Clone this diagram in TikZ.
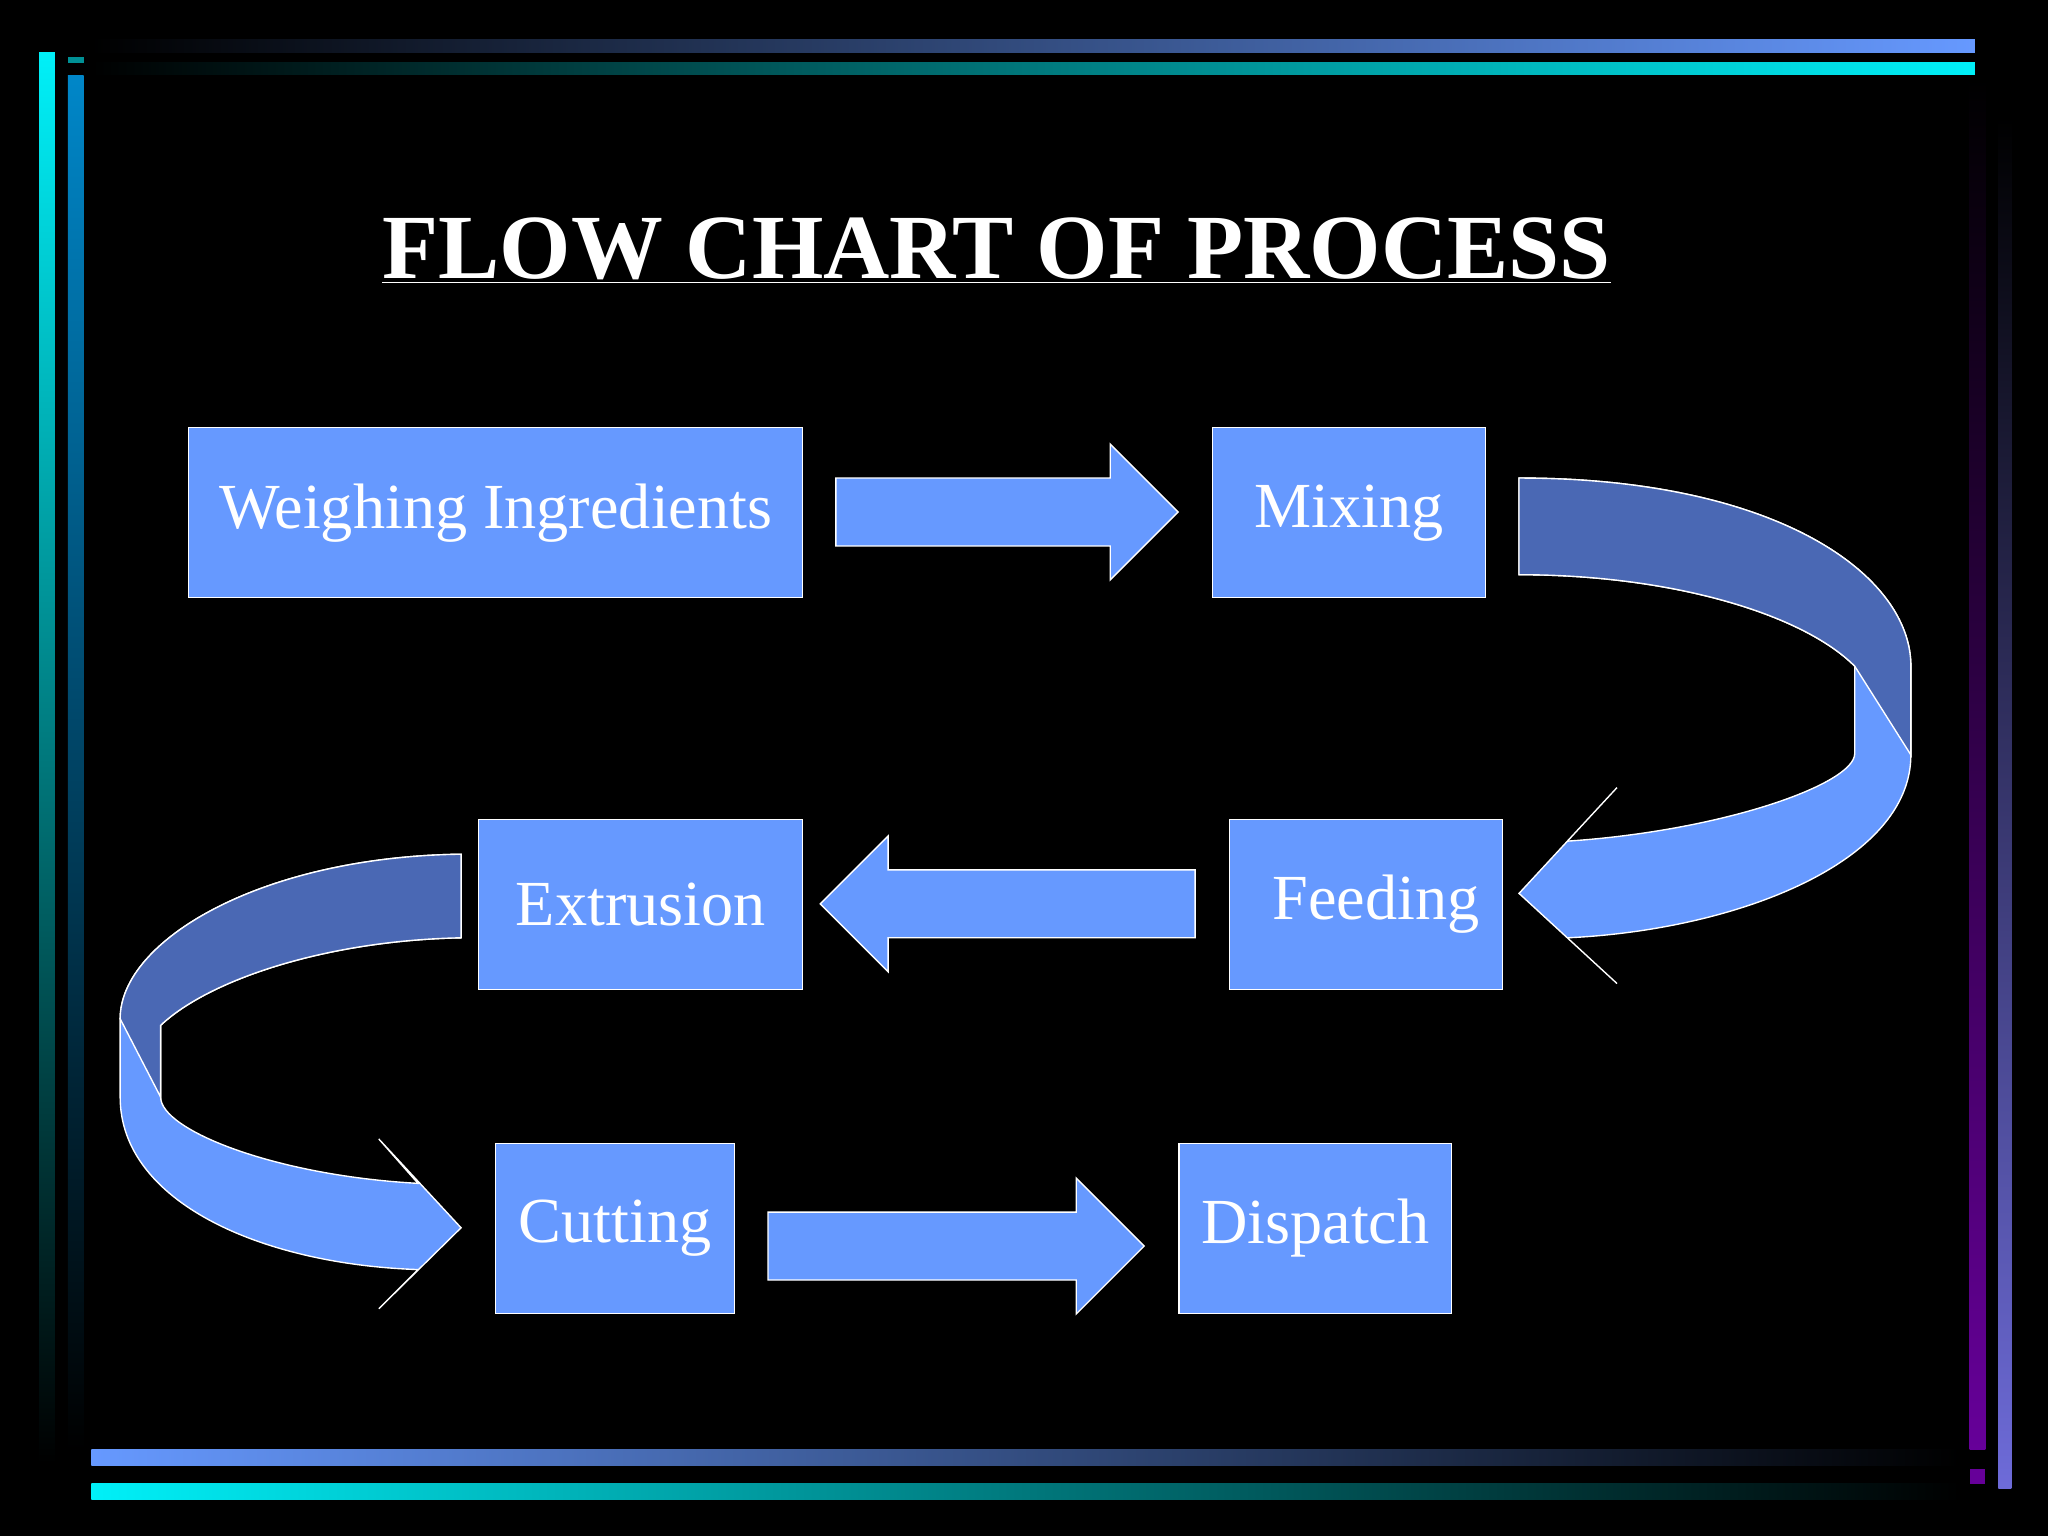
\documentclass[tikz,border=0pt]{standalone}
\usepackage{fontspec}
\setmainfont{Liberation Serif}
\definecolor{boxblue}{HTML}{6699FF}
\definecolor{darkband}{HTML}{4A68B4}
\definecolor{cy}{HTML}{00F0F8}
\begin{document}
\begin{tikzpicture}[x=0.02cm,y=-0.02cm,
  stepbox/.style={draw=white,line width=0.6pt,fill=boxblue,text=white,font=\fontsize{28}{30}\selectfont,anchor=north west,inner sep=0pt},
  blk/.style={draw=white,line width=0.6pt,fill=boxblue}]
\fill[black] (0,0) rectangle (1568,1176);
\useasboundingbox (0,0) rectangle (1568,1176);
% frame bars
\shade[top color=cy,bottom color=black] (30,40) rectangle (42,1120);
\shade[top color=cy!70!blue!80!black,bottom color=black] (52,58) rectangle (64,1110);
\fill[cy!60!black] (52,44) rectangle (64,48);
\shade[left color=black,right color=boxblue] (70,30) rectangle (1512,40);
\shade[left color=black,right color=cy] (70,48) rectangle (1512,57);
\shade[top color=black,bottom color=violet!80!blue] (1508,60) rectangle (1520,1110);
\shade[top color=black,bottom color=boxblue!70!violet] (1530,90) rectangle (1540,1140);
\shade[left color=boxblue,right color=black] (70,1110) rectangle (1500,1122);
\shade[left color=cy,right color=black] (70,1136) rectangle (1500,1148);
\fill[violet!80!blue] (1508,1125) rectangle (1520,1136);
% title
\node[text=white,font=\bfseries\fontsize{40}{42}\selectfont] (title) at (763,192) {\underline{FLOW CHART OF PROCESS}};
% boxes
\node[stepbox,minimum width=470*0.02cm,minimum height=130*0.02cm] (w) at (144,327) {Weighing Ingredients};
\node[stepbox,minimum width=209*0.02cm,minimum height=130*0.02cm] (m) at (928,327) {Mixing};
\node[stepbox,minimum width=248*0.02cm,minimum height=130*0.02cm] (e) at (366,627) {Extrusion};
\node[stepbox,minimum width=209*0.02cm,minimum height=130*0.02cm] (f) at (941,627) {\hspace*{0.3cm}Feeding};
\node[stepbox,minimum width=183*0.02cm,minimum height=130*0.02cm] (c) at (379,875) {Cutting};
\node[stepbox,minimum width=209*0.02cm,minimum height=130*0.02cm] (d) at (902,875) {Dispatch};
% straight block arrows
\draw[blk] (640,366) -- (850,366) -- (850,340) -- (902,392) -- (850,444) -- (850,418) -- (640,418) -- cycle;
\draw[blk] (915,666) -- (680,666) -- (680,640) -- (628,692) -- (680,744) -- (680,718) -- (915,718) -- cycle;
\draw[blk] (588,928) -- (824,928) -- (824,902) -- (876,954) -- (824,1006) -- (824,980) -- (588,980) -- cycle;
% right curved arrow
\draw[blk] (1163,366) .. controls (1360,366) and (1463,440) .. (1463,510) -- (1463,578)
  .. controls (1463,660) and (1330,712) .. (1200,718) -- (1238,753) -- (1163,684) -- (1238,603) -- (1200,644)
  .. controls (1320,636) and (1420,600) .. (1420,577) -- (1420,510)
  .. controls (1380,470) and (1280,440) .. (1163,440) -- cycle;
\draw[draw=white,line width=0.6pt,fill=darkband] (1163,366) .. controls (1360,366) and (1463,440) .. (1463,510) -- (1463,578) -- (1420,510)
  .. controls (1380,470) and (1280,440) .. (1163,440) -- cycle;
% left curved arrow
\draw[blk] (353,654) .. controls (200,656) and (92,720) .. (92,780) -- (92,840)
  .. controls (92,920) and (200,968) .. (320,972) -- (290,1002) -- (353,940) -- (290,872) -- (320,906)
  .. controls (210,900) and (123,865) .. (123,840) -- (123,785)
  .. controls (160,750) and (250,720) .. (353,718) -- cycle;
\draw[draw=white,line width=0.6pt,fill=darkband] (353,654) .. controls (200,656) and (92,720) .. (92,780) -- (123,840) -- (123,785)
  .. controls (160,750) and (250,720) .. (353,718) -- cycle;
\end{tikzpicture}
\end{document}
